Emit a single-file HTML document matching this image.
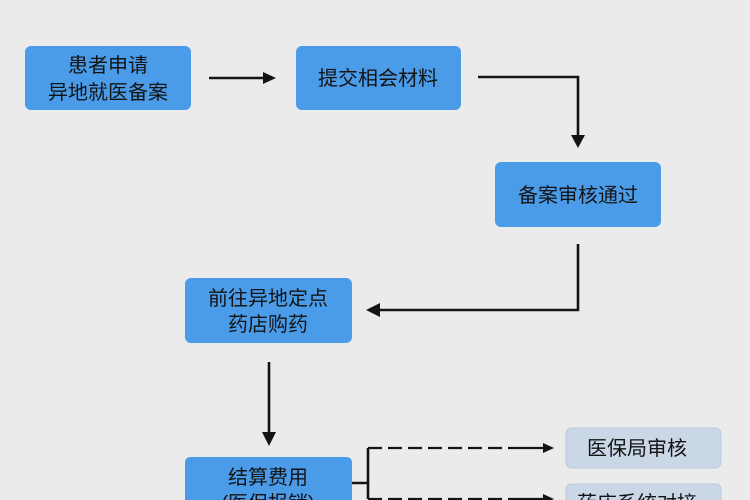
<!DOCTYPE html>
<html><head><meta charset="utf-8">
<style>
html,body{margin:0;padding:0;background:#ebebeb;}
body{width:750px;height:500px;overflow:hidden;position:relative;}
svg{position:absolute;left:0;top:0;display:block;}
text{font-family:"Liberation Sans","Noto Sans CJK SC",sans-serif;font-size:20px;fill:#141414;text-anchor:middle;}
</style></head>
<body>
<svg width="750" height="500" viewBox="0 0 750 500" overflow="hidden">
  <defs><clipPath id="c"><rect x="0" y="0" width="750" height="500"/></clipPath></defs>
  <rect x="0" y="0" width="750" height="500" fill="#ebebeb"/>
  <g clip-path="url(#c)">
  <!-- boxes -->
  <rect x="25" y="46" width="166" height="64" rx="6" fill="#4a9be8"/>
  <rect x="296" y="46" width="165" height="64" rx="6" fill="#4a9be8"/>
  <rect x="495" y="162" width="166" height="65" rx="6" fill="#4a9be8"/>
  <rect x="185" y="278" width="167" height="65" rx="6" fill="#4a9be8"/>
  <path d="M185,500 L185,463 Q185,457 191,457 L346,457 Q352,457 352,463 L352,500 Z" fill="#4a9be8"/>
  <rect x="566" y="428" width="155" height="40" rx="6" fill="#c9d7e7" stroke="#b9cadd" stroke-width="1"/>
  <path d="M566,500 L566,490 Q566,484 572,484 L715,484 Q721,484 721,490 L721,500" fill="#c9d7e7" stroke="#b9cadd" stroke-width="1"/>

  <!-- texts -->
  <text x="108" y="72">患者申请</text>
  <text x="108" y="99">异地就医备案</text>
  <text x="378" y="85">提交相会材料</text>
  <text x="578" y="202">备案审核通过</text>
  <text x="268" y="305">前往异地定点</text>
  <text x="268" y="331">药店购药</text>
  <text x="268" y="484">结算费用</text>
  <text x="268" y="510">(医保报销)</text>
  <text x="637" y="455">医保局审核</text>
  <text x="637" y="510">药店系统对接</text>

  <g stroke="#141414" stroke-width="2.6" fill="none">
    <line x1="209" y1="78" x2="265" y2="78"/>
    <polyline points="478,77 578,77 578,136"/>
    <polyline points="578,244 578,310 378,310"/>
    <line x1="269" y1="362" x2="269" y2="434"/>
    <polyline points="352,483 368,483 368,448"/>
    <line x1="368" y1="483" x2="368" y2="499"/>
    <line x1="368" y1="448" x2="517" y2="448" stroke-dasharray="14,6" stroke-width="2.2"/>
    <line x1="517" y1="448" x2="544" y2="448" stroke-width="2.2"/>
    <line x1="368" y1="499" x2="517" y2="499" stroke-dasharray="14,6" stroke-width="2.2"/>
    <line x1="517" y1="499" x2="544" y2="499" stroke-width="2.2"/>
  </g>
  <g fill="#141414">
    <polygon points="276,78 263,72 263,84"/>
    <polygon points="578,148 571,135 585,135"/>
    <polygon points="366,310 380,303 380,317"/>
    <polygon points="269,446 262,432 276,432"/>
    <polygon points="554,448 543,443 543,453"/>
    <polygon points="554,499 543,494 543,504"/>
  </g>
  </g>
</svg>
</body></html>
